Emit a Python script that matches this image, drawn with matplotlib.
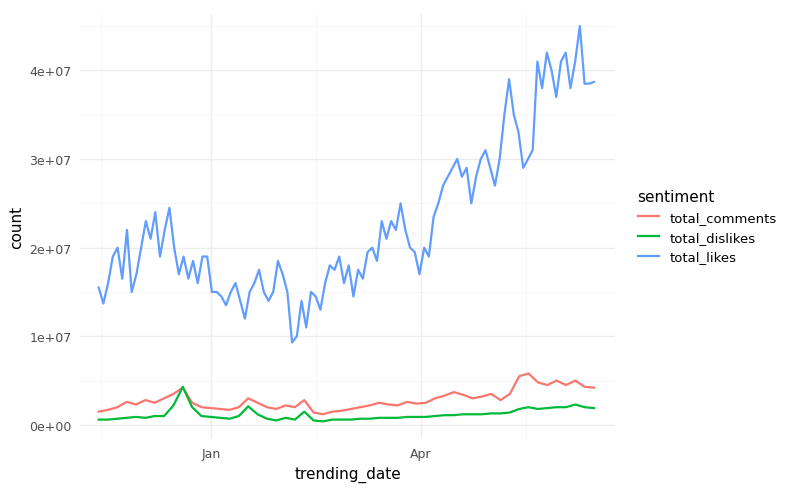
import numpy as np
import pandas as pd
import matplotlib.pyplot as plt
import matplotlib.dates as mdates
from matplotlib.ticker import FuncFormatter

start, end = "2017-11-14", "2018-06-14"

total_likes = [15.5, 13.7, 16, 19, 20, 16.5, 22, 15, 17, 20, 23, 21, 24, 19, 22, 24.5, 20, 17, 19, 16.5,
               18.5, 16, 19, 19, 15, 15, 14.5, 13.5, 15, 16, 14, 12, 15, 16, 17.5, 15, 14, 15, 18.5, 17,
               15, 9.3, 10, 14, 11, 15, 14.5, 13, 16, 18, 17.5, 19, 16, 18, 14.5, 17.5, 16.5, 19.5, 20, 18.5,
               23, 21, 23, 22, 25, 22, 20, 19.5, 17, 20, 19, 23.5, 25, 27, 28, 29, 30, 28, 29, 25,
               28, 30, 31, 29, 27, 30, 35, 39, 35, 33, 29, 30, 31, 41, 38, 42, 40, 37, 41, 42,
               38, 41, 45, 38.5, 38.5, 38.7]
total_comments = [1.5, 1.7, 2.0, 2.6, 2.3, 2.8, 2.5, 3.0, 3.5, 4.2, 2.5, 2.0, 1.9, 1.8, 1.7, 2.0, 3.0, 2.5,
                  2.0, 1.8, 2.2, 2.0, 2.8, 1.4, 1.2, 1.5, 1.6, 1.8, 2.0, 2.2, 2.5, 2.3, 2.2, 2.6, 2.4, 2.5,
                  3.0, 3.3, 3.7, 3.4, 3.0, 3.2, 3.5, 2.8, 3.5, 5.5, 5.8, 4.8, 4.5, 5.0, 4.5, 5.0, 4.3, 4.2]
total_dislikes = [0.6, 0.6, 0.7, 0.8, 0.9, 0.8, 1.0, 1.0, 2.2, 4.3, 2.0, 1.0, 0.9, 0.8, 0.7, 1.0, 2.1, 1.2,
                  0.7, 0.5, 0.8, 0.6, 1.5, 0.5, 0.4, 0.6, 0.6, 0.6, 0.7, 0.7, 0.8, 0.8, 0.8, 0.9, 0.9, 0.9,
                  1.0, 1.1, 1.1, 1.2, 1.2, 1.2, 1.3, 1.3, 1.4, 1.8, 2.0, 1.8, 1.9, 2.0, 2.0, 2.3, 2.0, 1.9]

series = [("total_comments", total_comments, "#F8766D"),
          ("total_dislikes", total_dislikes, "#00BA38"),
          ("total_likes", total_likes, "#619CFF")]

fig = plt.figure(figsize=(7.88, 4.89), dpi=100)
ax = fig.add_axes([0.1015, 0.10, 0.679, 0.87])
for name, vals, col in series:
    d = pd.date_range(start, end, periods=len(vals))
    ax.plot(d, np.array(vals) * 1e6, color=col, lw=1.6, label=name)

ax.set_xlim(pd.Timestamp("2017-11-06"), pd.Timestamp("2018-06-23"))
ax.set_ylim(-1.6e6, 46.4e6)
ax.set_yticks([0, 1e7, 2e7, 3e7, 4e7])
ax.set_yticks([0.5e7, 1.5e7, 2.5e7, 3.5e7, 4.5e7], minor=True)
ax.yaxis.set_major_formatter(FuncFormatter(lambda v, p: "%de+%02d" % (round(v / 1e7), 7) if v else "0e+00"))
ax.set_xticks([pd.Timestamp("2018-01-01"), pd.Timestamp("2018-04-01")])
ax.set_xticks([pd.Timestamp("2017-11-15"), pd.Timestamp("2018-02-15"), pd.Timestamp("2018-05-16")], minor=True)
ax.xaxis.set_major_formatter(mdates.DateFormatter("%b"))
ax.grid(which="major", color="#EDEDED", lw=1.0)
ax.grid(which="minor", color="#F4F4F4", lw=0.6)
ax.set_axisbelow(True)
for s in ax.spines.values():
    s.set_visible(False)
ax.tick_params(which="both", length=0, labelsize=9, colors="#4D4D4D", pad=6)
ax.set_xlabel("trending_date", fontsize=11)
ax.set_ylabel("count", fontsize=11)

leg = ax.legend(loc="center left", bbox_to_anchor=(1.02, 0.5), frameon=False, title="sentiment",
                fontsize=9.5, title_fontsize=11, handlelength=1.6)
leg._legend_box.align = "left"

fig.savefig("out.png", dpi=100)
